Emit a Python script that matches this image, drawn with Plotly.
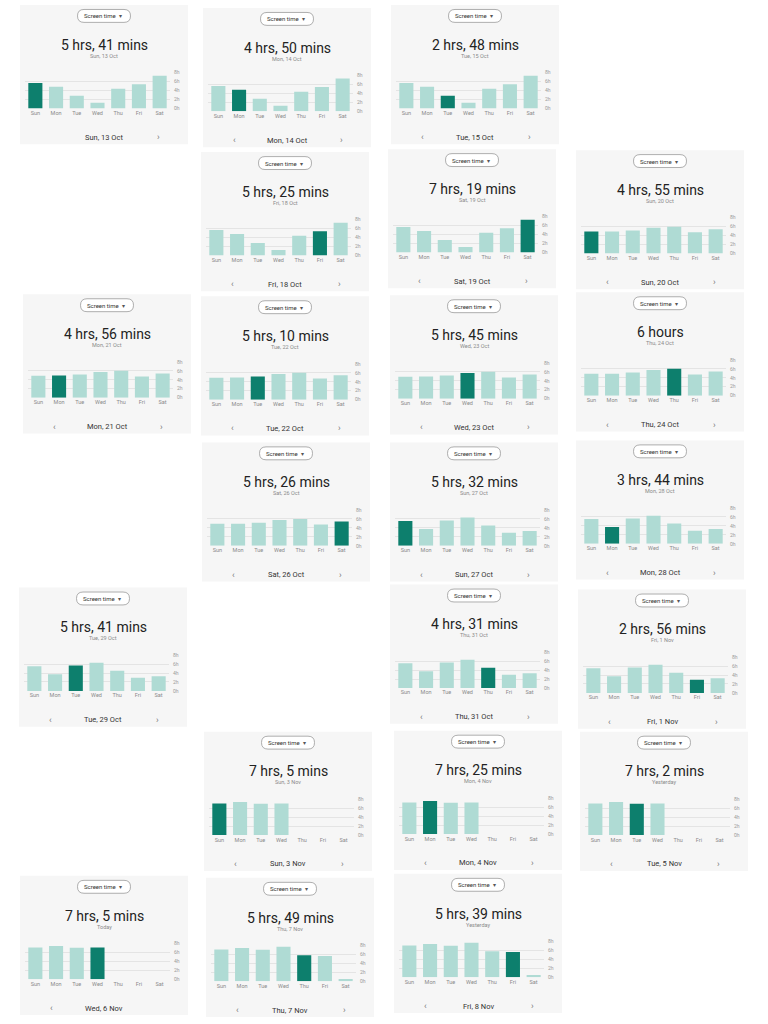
import plotly.graph_objects as go

# ---------------- data ----------------
days = ["Sun", "Mon", "Tue", "Wed", "Thu", "Fri", "Sat"]
y_tick_vals = [0, 2, 4, 6, 8]
y_tick_text = ["0h", "2h", "4h", "6h", "8h"]

# hours of screen time per day
week_oct13 = [5.68, 4.83, 2.80, 1.25, 4.40, 5.42, 7.32]
week_oct20 = [4.92, 4.93, 5.17, 5.75, 6.00, 4.75, 5.43]
week_oct27 = [5.53, 3.73, 5.68, 6.30, 4.52, 2.93, 3.30]
week_nov3_early = [7.08, 7.42, 7.03, 7.08, None, None, None]
week_nov3_late = [7.08, 7.42, 7.03, 7.70, 5.82, 5.65, 0.50]

weeks = {
    "oct13": week_oct13, "oct20": week_oct20, "oct27": week_oct27,
    "nov3a": week_nov3_early, "nov3b": week_nov3_late,
}

panel_titles = ["5 hrs, 41 mins", "4 hrs, 50 mins", "2 hrs, 48 mins", "5 hrs, 25 mins",
                "7 hrs, 19 mins", "4 hrs, 55 mins", "4 hrs, 56 mins", "5 hrs, 10 mins",
                "5 hrs, 45 mins", "6 hours", "5 hrs, 26 mins", "5 hrs, 32 mins",
                "3 hrs, 44 mins", "5 hrs, 41 mins", "4 hrs, 31 mins", "2 hrs, 56 mins",
                "7 hrs, 5 mins", "7 hrs, 25 mins", "7 hrs, 2 mins", "7 hrs, 5 mins",
                "5 hrs, 49 mins", "5 hrs, 39 mins"]
panel_subtitles = ["Sun, 13 Oct", "Mon, 14 Oct", "Tue, 15 Oct", "Fri, 18 Oct", "Sat, 19 Oct",
                   "Sun, 20 Oct", "Mon, 21 Oct", "Tue, 22 Oct", "Wed, 23 Oct", "Thu, 24 Oct",
                   "Sat, 26 Oct", "Sun, 27 Oct", "Mon, 28 Oct", "Tue, 29 Oct", "Thu, 31 Oct",
                   "Fri, 1 Nov", "Sun, 3 Nov", "Mon, 4 Nov", "Yesterday", "Today",
                   "Thu, 7 Nov", "Yesterday"]
panel_dates = ["Sun, 13 Oct", "Mon, 14 Oct", "Tue, 15 Oct", "Fri, 18 Oct", "Sat, 19 Oct",
               "Sun, 20 Oct", "Mon, 21 Oct", "Tue, 22 Oct", "Wed, 23 Oct", "Thu, 24 Oct",
               "Sat, 26 Oct", "Sun, 27 Oct", "Mon, 28 Oct", "Tue, 29 Oct", "Thu, 31 Oct",
               "Fri, 1 Nov", "Sun, 3 Nov", "Mon, 4 Nov", "Tue, 5 Nov", "Wed, 6 Nov",
               "Thu, 7 Nov", "Fri, 8 Nov"]
panel_selected = [0, 1, 2, 5, 6, 0, 1, 2, 3, 4, 6, 0, 1, 2, 4, 5, 0, 1, 2, 3, 4, 5]
panel_week = ["oct13"] * 5 + ["oct20"] * 6 + ["oct27"] * 5 + ["nov3a"] * 4 + ["nov3b"] * 2

# ---------------- layout (pixel origins of each screenshot) ----------------
W, H = 768, 1024
panel_origins = [(20, 2), (203, 5), (391, 2),
                 (201, 150), (388, 147), (576, 148),
                 (23, 293), (201, 295), (390, 294), (576, 291),
                 (202, 442), (390, 442), (576, 440),
                 (19, 588), (390, 585), (578, 590),
                 (204, 733), (394, 732), (580, 733),
                 (20, 878), (206, 880), (394, 876)]
PW, PH = 168, 140

DARK = "#0d7f6d"
LIGHT = "#afdbd4"
BG = "#f6f6f6"
FONT = "Roboto"


def px(x):
    return x / W


def py(y):
    return 1 - y / H


def label(x, y, text, size, color):
    return dict(x=px(x), y=py(y), xref="paper", yref="paper", text=text,
                showarrow=False, xanchor="center", yanchor="middle",
                font=dict(size=size, color=color, family=FONT))


fig = go.Figure()
layout = dict(width=W, height=H, margin=dict(l=0, r=0, t=0, b=0),
              paper_bgcolor="white", plot_bgcolor="rgba(0,0,0,0)",
              showlegend=False, font=dict(family=FONT))
shapes = []
annotations = []

for i, (x0, y0) in enumerate(panel_origins):
    n = i + 1
    vals = weeks[panel_week[i]]
    sel = panel_selected[i]
    colors = [DARK if k == sel else LIGHT for k in range(7)]
    fig.add_trace(go.Bar(x=days, y=vals, marker=dict(color=colors, line=dict(width=0)),
                         xaxis=f"x{n}", yaxis=f"y{n}", hoverinfo="skip"))
    xa = dict(domain=[px(x0 + 5), px(x0 + 150)], anchor=f"y{n}",
              showgrid=False, zeroline=False, showline=False, ticks="",
              tickfont=dict(size=5.5, color="#8a8a8a", family=FONT),
              categoryorder="array", categoryarray=days, fixedrange=True)
    ya = dict(domain=[py(y0 + 104), py(y0 + 68)], anchor=f"x{n}", side="right",
              range=[0, 8], tickvals=y_tick_vals, ticktext=y_tick_text,
              showgrid=True, gridcolor="#e4e4e4", gridwidth=0.6, zeroline=False,
              showline=False, ticks="", ticklabelstandoff=3,
              tickfont=dict(size=5, color="#9a9a9a", family=FONT), fixedrange=True)
    layout[f"xaxis{n}"] = xa
    layout[f"yaxis{n}"] = ya

    # screenshot background
    shapes.append(dict(type="rect", xref="paper", yref="paper",
                       x0=px(x0), x1=px(x0 + PW), y0=py(y0 + PH), y1=py(y0),
                       fillcolor=BG, line=dict(width=0), layer="below"))
    # pill button (rounded rectangle)
    cx, cy = x0 + 84, y0 + 11
    hw, hh, r = 26.5, 6.5, 6.5
    L, R, T, B = cx - hw, cx + hw, cy - hh, cy + hh
    path = (f"M {px(L + r)},{py(T)} L {px(R - r)},{py(T)} "
            f"Q {px(R)},{py(T)} {px(R)},{py(cy)} "
            f"Q {px(R)},{py(B)} {px(R - r)},{py(B)} "
            f"L {px(L + r)},{py(B)} "
            f"Q {px(L)},{py(B)} {px(L)},{py(cy)} "
            f"Q {px(L)},{py(T)} {px(L + r)},{py(T)} Z")
    shapes.append(dict(type="path", xref="paper", yref="paper", path=path,
                       fillcolor="white", line=dict(color="#9a9a9a", width=0.8)))
    annotations.append(label(cx - 4, cy, "Screen time", 6, "#333"))
    annotations.append(label(cx + 16, cy, "▾", 6, "#555"))
    # title and subtitle
    annotations.append(label(cx, y0 + 40, panel_titles[i], 14, "#222"))
    annotations.append(label(cx, y0 + 51, panel_subtitles[i], 5.5, "#8a8a8a"))
    # bottom navigation
    annotations.append(label(cx, y0 + 133, panel_dates[i], 7.5, "#333"))
    if i != 0:
        annotations.append(label(x0 + 31, y0 + 133, "‹", 9, "#777"))
    if panel_subtitles[i] != "Today":
        annotations.append(label(x0 + 138, y0 + 133, "›", 9, "#777"))

layout["shapes"] = shapes
layout["annotations"] = annotations
layout["bargap"] = 0.32
fig.update_layout(**layout)
fig.write_html("out.html")
